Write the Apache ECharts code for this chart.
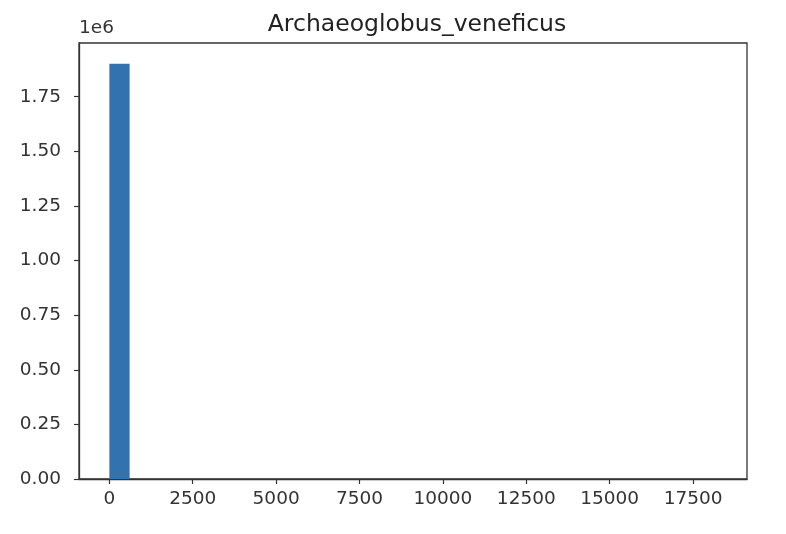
<!DOCTYPE html>
<html>
<head>
<meta charset="utf-8">
<script src="https://cdn.jsdelivr.net/npm/echarts@6/dist/echarts.min.js"></script>
<style>html,body{margin:0;padding:0;background:#fff}#c{width:786px;height:534px}</style>
</head>
<body>
<div id="c"></div>
<script>
// Histogram: 30 bins between dataMin and dataMax
const titleText = "Archaeoglobus_veneficus";
const dataMin = 0;
const dataMax = 18207;
const binCount = 30;
const counts = [1901000, 0, 0, 0, 0, 0, 0, 0, 0, 0, 0, 0, 0, 0, 0, 0, 0, 0, 0, 0, 0, 0, 0, 0, 0, 0, 0, 0, 0, 0];
const xTicks = [0, 2500, 5000, 7500, 10000, 12500, 15000, 17500];
const yTicks = [0, 250000, 500000, 750000, 1000000, 1250000, 1500000, 1750000];
const yScaleLabel = "1e6";

const binW = (dataMax - dataMin) / binCount;
const bins = counts.map((c, i) => [dataMin + i * binW, dataMin + (i + 1) * binW, c]);
const span = dataMax - dataMin;
const xMin = dataMin - 0.05 * span;
const xMax = dataMax + 0.05 * span;
const yMax = Math.max(...counts) * 1.05;

const font = "DejaVu Sans";
const chart = echarts.init(document.getElementById('c'), null, {renderer: 'canvas'});
chart.setOption({
  animation: false,
  backgroundColor: '#fff',
  title: {
    text: titleText, left: 412, textAlign: 'center', top: 8,
    textStyle: {fontFamily: font, fontSize: 23.5, fontWeight: 'normal', color: '#222'}
  },
  grid: {left: 79, right: 39, top: 43, bottom: 55, show: true, borderColor: '#333', borderWidth: 1.3, backgroundColor: 'transparent'},
  xAxis: {
    type: 'value', min: xMin, max: xMax,
    splitLine: {show: false},
    axisLine: {show: true, onZero: false, lineStyle: {color: '#333', width: 1.3}},
    axisTick: {show: true, length: 5, customValues: xTicks, lineStyle: {color: '#333', width: 1.2}},
    axisLabel: {customValues: xTicks, fontFamily: font, fontSize: 18.5, color: '#333', margin: 11, formatter: v => String(Math.round(v))}
  },
  yAxis: {
    type: 'value', min: 0, max: yMax,
    name: yScaleLabel, nameLocation: 'end', nameGap: 5,
    nameTextStyle: {fontFamily: font, fontSize: 18.5, color: '#333', align: 'left', verticalAlign: 'bottom'},
    splitLine: {show: false},
    axisLine: {show: true, onZero: false, lineStyle: {color: '#333', width: 1.3}},
    axisTick: {show: true, length: 5, customValues: yTicks, lineStyle: {color: '#333', width: 1.2}},
    axisLabel: {customValues: yTicks, fontFamily: font, fontSize: 18.5, color: '#333', margin: 18, formatter: v => (v / 1e6).toFixed(2)}
  },
  series: [{
    type: 'custom',
    data: bins,
    encode: {x: [0, 1], y: 2},
    renderItem: function (params, api) {
      const p0 = api.coord([api.value(0), 0]);
      const p1 = api.coord([api.value(1), api.value(2)]);
      return {
        type: 'rect',
        shape: {x: p0[0], y: p1[1], width: p1[0] - p0[0], height: p0[1] - p1[1]},
        style: {fill: '#3273af'}
      };
    }
  }]
});
</script>
</body>
</html>
